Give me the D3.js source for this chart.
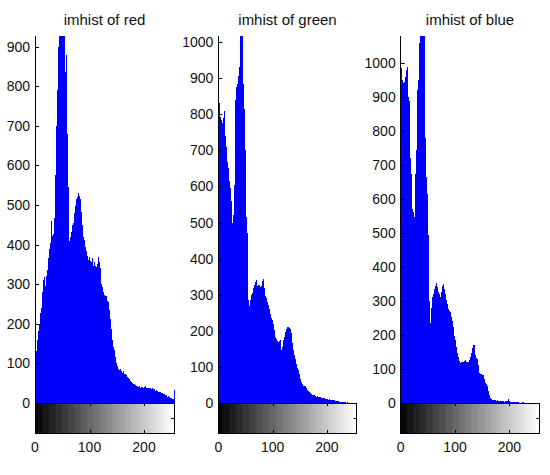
<!DOCTYPE html>
<html>
<head>
<meta charset="utf-8">
<title>imhist of red, green, blue</title>
<script src="https://d3js.org/d3.v7.min.js"></script>
<style>
  html, body { margin:0; padding:0; background:#fff; }
  svg { display:block; }
  text { font-family: "Liberation Sans", Arial, sans-serif; fill:#111; }
</style>
</head>
<body>
<svg id="chart"></svg>
<script>
// pixel counts per gray level (0..255)
var redCounts = [
  98,105,118,132,146,160,174,182,190,199,
  215,228,241,262,281,300,311,317,305,296,
  290,306,322,335,352,366,380,388,397,405,
  430,460,421,410,428,445,468,490,575,660,
  700,735,790,835,900,960,1050,1150,1240,1310,
  1280,1190,1120,1060,990,940,835,880,735,680,
  625,545,470,410,370,398,420,432,445,450,
  452,455,468,480,490,498,507,515,520,526,
  530,524,520,515,498,482,465,450,435,420,
  412,403,395,390,385,380,371,363,355,362,
  370,358,354,350,357,365,352,340,346,351,
  355,347,340,344,347,350,362,370,355,348,
  340,320,300,293,286,280,275,270,272,268,
  271,270,264,258,255,245,235,225,212,200,
  187,173,160,151,142,133,125,117,108,100,
  96,93,90,85,80,83,78,85,80,76,
  72,76,70,80,74,69,72,66,70,65,
  61,63,58,60,56,55,52,54,49,51,
  47,45,48,43,46,42,44,40,43,39,
  41,38,42,38,37,40,36,41,39,37,
  40,38,42,36,39,37,38,35,39,36,
  38,34,38,36,33,37,34,35,32,35,
  33,30,32,29,30,31,27,29,26,28,
  25,27,24,22,25,21,22,23,19,21,
  18,19,16,15,17,14,15,13,12,13,
  11,12,10,11,9,32
];
var greenCounts = [
  895,870,830,800,792,785,780,776,770,765,
  790,810,760,740,725,710,690,668,650,640,
  615,605,595,585,560,523,487,500,520,560,
  605,810,840,860,875,880,885,895,905,930,
  990,1060,1120,1080,980,1050,885,850,815,780,
  700,630,515,470,340,285,270,262,268,275,
  285,292,300,306,313,318,322,326,330,336,
  342,330,322,325,328,327,327,322,313,320,
  325,332,338,345,330,318,303,297,291,285,
  280,276,271,266,260,255,248,242,236,230,
  225,218,211,202,193,183,180,177,174,171,
  168,165,168,171,174,160,148,137,140,155,
  165,175,183,190,196,202,206,209,211,211,
  210,209,207,206,195,174,165,155,146,140,
  134,128,122,115,109,103,97,91,85,79,
  72,67,62,58,55,52,49,47,46,44,
  46,40,42,36,37,31,33,28,30,26,
  27,24,25,22,23,20,22,19,21,18,
  20,17,19,16,18,15,17,14,16,13,
  15,12,14,13,11,13,10,12,11,9,
  12,10,11,8,10,8,9,7,9,6,
  8,6,7,5,7,5,6,4,6,4,
  5,3,5,3,4,2,4,2,3,2,
  2,3,1,2,1,2,1,1,2,1,
  1,0,1,0,0,1,0,0,1,0,
  0,0,0,0,0,0
];
var blueCounts = [
  998,985,960,950,945,940,942,945,950,958,
  970,980,990,940,900,895,890,775,720,675,
  577,570,567,562,557,548,540,533,675,745,
  813,920,935,950,1010,1060,1120,1180,1230,1260,
  1240,1190,1130,1090,900,780,695,665,636,615,
  597,495,420,300,218,235,252,280,310,313,
  316,320,328,336,344,350,354,342,330,326,
  323,320,308,296,312,326,340,345,350,342,
  335,328,320,310,303,297,291,284,278,272,
  270,267,260,254,248,240,231,223,210,197,
  184,174,164,155,148,142,136,130,124,119,
  117,119,121,120,118,117,120,123,125,126,
  124,122,121,120,121,121,124,128,131,136,
  141,146,154,162,170,166,170,141,136,133,
  131,129,126,112,98,87,86,85,84,83,
  83,83,83,78,70,63,59,55,52,49,
  40,34,29,24,19,15,13,11,10,9,
  9,8,10,8,7,8,6,7,8,6,
  7,5,6,7,5,6,4,6,5,4,
  5,4,6,3,5,4,3,5,6,12,
  5,3,4,2,4,3,2,3,2,3,
  2,3,1,2,1,2,1,2,0,1,
  1,0,1,0,2,3,2,1,0,1,
  0,0,1,0,0,0,0,0,0,0,
  0,0,0,0,0,0,0,0,0,0,
  0,0,0,0,0,0
];

var titles = ["imhist of red", "imhist of green", "imhist of blue"];
var counts = [redCounts, greenCounts, blueCounts];
var yMaxes = [927, 1017, 1080];
var yTickVals = [d3.range(0, 901, 100), d3.range(0, 1001, 100), d3.range(0, 1001, 100)];
var xTickVals = [0, 100, 200];

var width = 550,
    height = 475;
var plotTop = 36, plotBottom = 403, barBottom = 433;
var lefts = [35, 218.3, 400.7],
    rights = [174, 356.7, 539.3];

var svg = d3.select("#chart")
    .attr("width", width)
    .attr("height", height);

svg.append("rect")
    .attr("width", width)
    .attr("height", height)
    .attr("fill", "#fff");

for (var p = 0; p < 3; p++) {
  var x = d3.scaleLinear().domain([0, 255]).range([lefts[p], rights[p]]);
  var xc = d3.scaleLinear().domain([0, 256]).range([lefts[p], rights[p]]);
  var y = d3.scaleLinear().domain([0, yMaxes[p]]).range([plotBottom, plotTop]);
  var g = svg.append("g");

  // clip the tall peaks at the top of the axes, like matlab does
  g.append("clipPath")
      .attr("id", "clip" + p)
    .append("rect")
      .attr("x", lefts[p] - 1)
      .attr("y", plotTop)
      .attr("width", rights[p] - lefts[p] + 2)
      .attr("height", plotBottom - plotTop);

  // stems
  g.append("g")
      .attr("clip-path", "url(#clip" + p + ")")
      .attr("shape-rendering", "crispEdges")
    .selectAll("line")
    .data(counts[p])
    .enter().append("line")
      .attr("x1", function(d, i) { return x(i); })
      .attr("x2", function(d, i) { return x(i); })
      .attr("y1", y(0))
      .attr("y2", function(d) { return y(d); })
      .attr("stroke", "#0000ff")
      .attr("stroke-width", 1);

  // y axis line + inward ticks
  g.append("line")
      .attr("x1", lefts[p]).attr("x2", lefts[p])
      .attr("y1", plotTop).attr("y2", plotBottom)
      .attr("stroke", "#000")
      .attr("shape-rendering", "crispEdges");
  g.selectAll(".ytick")
    .data(yTickVals[p])
    .enter().append("line")
      .attr("class", "ytick")
      .attr("x1", lefts[p]).attr("x2", lefts[p] + 4)
      .attr("y1", function(d) { return Math.round(y(d)) + 0.5; })
      .attr("y2", function(d) { return Math.round(y(d)) + 0.5; })
      .attr("stroke", "#000");
  g.selectAll(".ylab")
    .data(yTickVals[p])
    .enter().append("text")
      .attr("class", "ylab")
      .attr("x", lefts[p] - 5)
      .attr("y", function(d) { return y(d) + 5; })
      .attr("text-anchor", "end")
      .style("font-size", "14px")
      .text(function(d) { return d; });

  // gray colorbar under the histogram
  g.selectAll(".cell")
    .data(d3.range(256))
    .enter().append("rect")
      .attr("class", "cell")
      .attr("x", function(d) { return xc(d); })
      .attr("y", plotBottom)
      .attr("width", function(d) { return d == 255 ? xc(256) - xc(255) : xc(d + 1) - xc(d) + 0.5; })
      .attr("height", barBottom - plotBottom)
      .attr("fill", function(d) { return d3.rgb(d, d, d); });
  g.append("rect")
      .attr("x", lefts[p])
      .attr("y", plotBottom)
      .attr("width", rights[p] - lefts[p])
      .attr("height", barBottom - plotBottom)
      .attr("fill", "none")
      .attr("stroke", "#000")
      .attr("shape-rendering", "crispEdges");
  g.selectAll(".xtick")
    .data(xTickVals)
    .enter().append("path")
      .attr("class", "xtick")
      .attr("d", function(d) {
        var xx = Math.round(x(d)) + 0.5;
        return "M" + xx + "," + plotBottom + "v3M" + xx + "," + barBottom + "v-3";
      })
      .attr("stroke", "#000");
  g.append("path")
      .attr("d", "M" + lefts[p] + "," + (plotBottom + 15.5) + "h3M" + rights[p] + "," + (plotBottom + 15.5) + "h-3")
      .attr("stroke", "#000");
  g.selectAll(".xlab")
    .data(xTickVals)
    .enter().append("text")
      .attr("class", "xlab")
      .attr("x", function(d) { return x(d); })
      .attr("y", 452)
      .attr("text-anchor", "middle")
      .style("font-size", "14px")
      .text(function(d) { return d; });

  g.append("text")
      .attr("x", (lefts[p] + rights[p]) / 2)
      .attr("y", 25)
      .attr("text-anchor", "middle")
      .style("font-size", "15px")
      .text(titles[p]);
}
</script>
</body>
</html>
